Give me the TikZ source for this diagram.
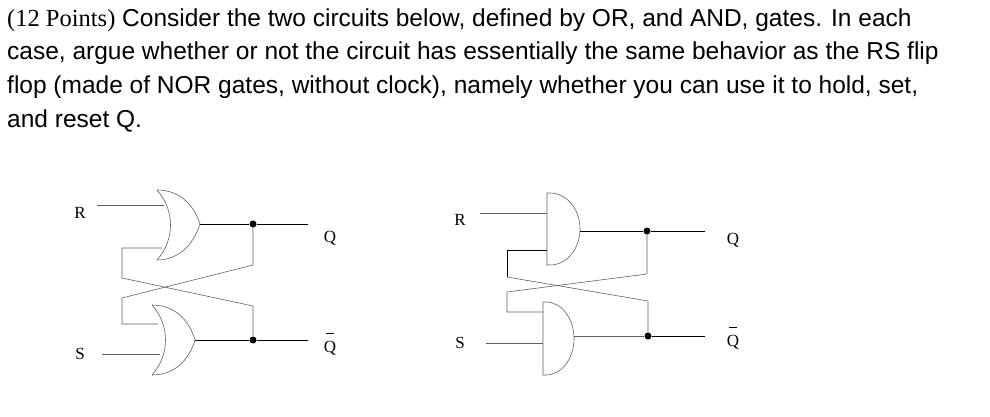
\documentclass[tikz,border=0pt]{standalone}
\usepackage{fontspec}
\setmainfont{Liberation Sans}
\newfontfamily\tms{Liberation Serif}
\begin{document}
\begin{tikzpicture}[x=1pt,y=-1pt,
  wire/.style={draw=gray!75!black,line width=0.6pt},
  owire/.style={draw=black,line width=0.7pt},
  gate/.style={draw=gray!75!black,line width=0.6pt},
  lbl/.style={font=\tms\fontsize{17}{17}\selectfont,inner sep=0pt},
  dotn/.style={circle,fill=black,inner sep=0pt,minimum size=7pt},
  ttl/.style={anchor=base west,inner sep=0pt,font=\fontsize{24.5}{25}\selectfont}]
\useasboundingbox (0,0) rectangle (990,416);
\node[ttl] (t1) at (7,26) {{\tms(12 Points)} Consider the two circuits below, defined by OR, and AND, gates. In each};
\node[ttl] (t2) at (7,59) {case, argue whether or not the circuit has essentially the same behavior as the RS flip};
\node[ttl] (t3) at (7,93) {flop (made of NOR gates, without clock), namely whether you can use it to hold, set,};
\node[ttl] (t4) at (7,127) {and reset Q.};
% ---- left: OR gates
\node[lbl] (R1) at (80,213) {R};
\node[lbl] (S1) at (80,354) {S};
\node[lbl] (Q1) at (330,238) {Q};
\node[lbl] (Qb1) at (330,348) {Q};
\draw[black,line width=0.6pt] (326,333) -- (334,333);
\path[gate] (157,190) .. controls (175,210) and (175,240) .. (157,260)
  (157,190) .. controls (182,190) and (195,208) .. (200,224)
  (157,260) .. controls (182,260) and (195,240) .. (200,224);
\path[gate] (152,305) .. controls (170,325) and (170,355) .. (152,375)
  (152,305) .. controls (177,305) and (190,323) .. (195,340)
  (152,375) .. controls (177,375) and (190,357) .. (195,340);
\node[dotn] (d1) at (253,224) {};
\node[dotn] (d2) at (253,340) {};
\coordinate (o1) at (200,224); \coordinate (o2) at (195,340);
\coordinate (qe1) at (308,224); \coordinate (qe2) at (308,340);
\draw[wire] (97,205) -- (164,205);
\draw[wire] (102,354) -- (160,354);
\draw[owire] (o1) -- (d1) -- (qe1);
\draw[owire] (o2) -- (d2) -- (qe2);
\draw[wire] (162,248) -- (122,248) -- (122,278) -- (253,306) -- (d2);
\draw[wire] (d1) -- (253,265) -- (122,298) -- (122,324) -- (158,324);
% ---- right: AND gates
\node[lbl] (R2) at (460,220) {R};
\node[lbl] (S2) at (460,343) {S};
\node[lbl] (Q2) at (733,240) {Q};
\node[lbl] (Qb2) at (733,342) {Q};
\draw[black,line width=0.6pt] (729,327) -- (737,327);
\path[gate] (550,265) -- (547,265) -- (547,193) -- (550,193)
  .. controls (566.6,193) and (580,209.1) .. (580,229)
  .. controls (580,248.9) and (566.6,265) .. (550,265);
\path[gate] (546,375) -- (543,375) -- (543,302) -- (546,302)
  .. controls (561.5,302) and (574,318.3) .. (574,338.5)
  .. controls (574,358.7) and (561.5,375) .. (546,375);
\node[dotn] (d3) at (647,231) {};
\node[dotn] (d4) at (648,336) {};
\coordinate (o3) at (580,231); \coordinate (o4) at (574,336);
\draw[wire] (480,213) -- (547,213);
\draw[wire] (486,343) -- (543,343);
\draw[owire] (o3) -- (d3) -- (705,231);
\draw[wire] (o4) -- (d4);
\draw[owire] (d4) -- (705,336);
\draw[owire] (547,250) -- (507,250) -- (507,277);
\draw[wire] (507,277) -- (648,301) -- (d4);
\draw[wire] (d3) -- (647,274) -- (507,292) -- (507,312) -- (543,312);
\end{tikzpicture}
\end{document}
